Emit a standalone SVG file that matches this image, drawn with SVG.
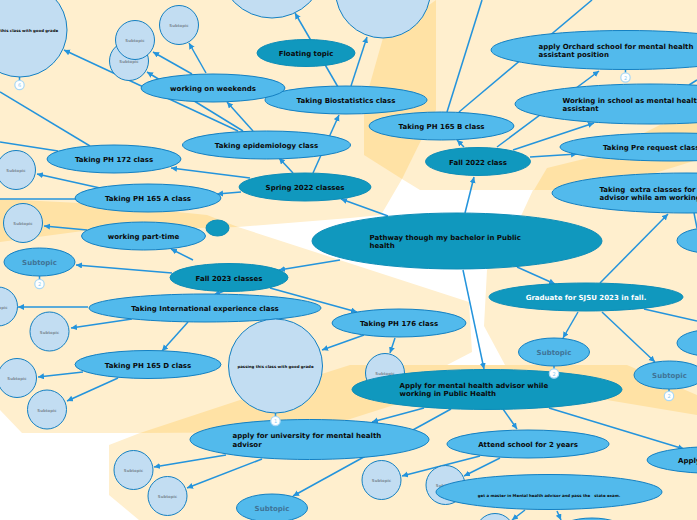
<svg xmlns="http://www.w3.org/2000/svg" width="697" height="520" viewBox="0 0 697 520">
<style>
text{font-family:"DejaVu Sans",sans-serif;font-weight:700;fill:#0a0a0a}
.t{font-size:7px}
.m{text-anchor:middle}
.root{fill:#1098BE;stroke:#0F8DB8;stroke-width:1}
.topic{fill:#52BAEC;stroke:#1480C2;stroke-width:1}
.sub{fill:#C2DDF2;stroke:#1480C2;stroke-width:1}
.st{font-size:7px;fill:#3F7396;text-anchor:middle}
.ss{font-size:3.9px;fill:#7d8b96;text-anchor:middle}
.tiny{font-size:3.9px;text-anchor:middle}
.badge{fill:#fff;stroke:#A9D8F5;stroke-width:1.2}
.bt{font-size:5px;fill:#8CCBF2;text-anchor:middle;font-weight:400}
#connectors path{fill:none;stroke:#2494DC;stroke-width:1.5}
#connectors path.a{marker-end:url(#arrow)}
</style>
<defs>
<marker id="arrow" markerUnits="userSpaceOnUse" markerWidth="7" markerHeight="7" refX="6" refY="3" orient="auto"><path d="M0 0L6 3L0 6Z" fill="#2494DC"/></marker>
</defs>
<g id="background">
<rect width="697" height="520" fill="#FFEFCE"/>
<path d="M238 227L350 218L381 215L402 179L420 190L533 190L521 216L487 270L484 326L505 365L447 365L472 352L469 302Z" fill="#fff"/>
<path d="M0 410L22 433L140 433L109 445L109 495L139 520L0 520Z" fill="#fff"/>
<g fill="#FFE2A5">
<path d="M436 0L436 110L402 179L364 155L364 105L383 38Z"/>
<path d="M534 190L547 168L600 155L660 125L697 118L697 160L600 190Z"/>
<path d="M0 199L100 204L207 215L238 227L83 231L0 242Z"/>
<path d="M140 433L240 400L350 365L627 365L697 395L697 415L607 400L394 405L347 420L280 432Z"/>
</g>
</g>
<g id="connectors">
<path class="a" d="M338 87L295 13"/>
<path class="a" d="M351 86L367 37"/>
<path class="a" d="M313 173L339 115"/>
<path class="a" d="M293 173L279 158"/>
<path class="a" d="M253 131L227 102"/>
<path class="a" d="M243 131L147 72"/>
<path class="a" d="M238 131L64 50"/>
<path class="a" d="M192 74L153 52"/>
<path class="a" d="M206 73L189 43"/>
<path d="M90 146L0 92"/>
<path d="M58 151L0 142"/>
<path class="a" d="M250 178L171 168"/>
<path class="a" d="M241 192L217 194"/>
<path class="a" d="M100 188L37 174"/>
<path d="M76 199L0 199"/>
<path class="a" d="M87 230L44 226"/>
<path class="a" d="M193 260L171 249"/>
<path class="a" d="M172 273L76 265"/>
<path class="a" d="M388 216L341 199"/>
<path class="a" d="M465 213L474 177"/>
<path class="a" d="M464 147L457 140"/>
<path d="M447 112L482 0"/>
<path d="M459 112L592 0"/>
<path class="a" d="M497 147L599 71"/>
<path class="a" d="M513 150L594 123"/>
<path class="a" d="M530 157L577 154"/>
<path d="M689 85L697 80"/>
<path class="a" d="M600 283L668 214"/>
<path d="M694 213L697 228"/>
<path class="a" d="M517 267L555 284"/>
<path class="a" d="M578 312L563 338"/>
<path class="a" d="M602 312L655 362"/>
<path d="M644 309L697 321"/>
<path class="a" d="M463 270L484 369"/>
<path class="a" d="M224 291L214 295"/>
<path class="a" d="M270 288L357 312"/>
<path class="a" d="M340 260L279 270"/>
<path class="a" d="M88 307L18 307"/>
<path class="a" d="M132 319L71 328"/>
<path class="a" d="M188 322L162 351"/>
<path class="a" d="M83 372L38 377"/>
<path class="a" d="M118 378L67 401"/>
<path class="a" d="M364 335L322 350"/>
<path class="a" d="M395 338L390 353"/>
<path class="a" d="M424 408L372 422"/>
<path class="a" d="M451 409L293 496"/>
<path class="a" d="M503 409L517 429"/>
<path class="a" d="M549 408L684 449"/>
<path class="a" d="M226 455L154 467"/>
<path class="a" d="M262 459L187 488"/>
<path class="a" d="M480 456L402 476"/>
<path class="a" d="M500 458L464 476"/>
<path class="a" d="M525 510L512 520"/>
<path class="a" d="M557 511L561 520"/>
<path d="M19.500 77L19.500 85M625.500 70L625.500 77M39.500 276L39.500 284M275.500 413L275.500 421M554 366L554 373M669 389L669 396"/>
</g>
<g id="n-top1"><circle class="sub" cx="272" cy="-35" r="53"/></g>
<g id="n-top2"><circle class="sub" cx="383" cy="-9.500" r="47.500"/></g>
<g id="n-leftcircle"><circle class="sub" cx="20" cy="30" r="47"/><text class="tiny" x="20" y="32">passing this class with good grade</text></g>
<g id="n-s1"><circle class="sub" cx="129" cy="61" r="19.500"/><text class="ss" x="129" y="63">Subtopic</text></g>
<g id="n-s2"><circle class="sub" cx="135" cy="40" r="19.500"/><text class="ss" x="135" y="42">Subtopic</text></g>
<g id="n-s3"><circle class="sub" cx="179" cy="25" r="19.500"/><text class="ss" x="179" y="27">Subtopic</text></g>
<g id="n-biostat"><ellipse class="topic" cx="346" cy="100" rx="81" ry="14"/><text class="t m" x="346" y="103">Taking Biostatistics class</text></g>
<g id="n-weekends"><ellipse class="topic" cx="213" cy="88" rx="72" ry="14"/><text class="t m" x="213" y="91">working on weekends</text></g>
<g id="n-floating"><ellipse class="root" cx="306" cy="53" rx="49" ry="13.500"/><text class="t m" x="306" y="56">Floating topic</text></g>
<g id="n-epi"><ellipse class="topic" cx="266.500" cy="145" rx="84" ry="14"/><text class="t m" x="266.500" y="148">Taking epidemiology class</text></g>
<g id="n-spring"><ellipse class="root" cx="305" cy="187" rx="66" ry="14"/><text class="t m" x="305" y="190">Spring 2022 classes</text></g>
<g id="n-ph172"><ellipse class="topic" cx="114" cy="159" rx="67" ry="14"/><text class="t m" x="114" y="162">Taking PH 172 class</text></g>
<g id="n-ph165a"><ellipse class="topic" cx="148" cy="198" rx="73" ry="14"/><text class="t m" x="148" y="201">Taking PH 165 A class</text></g>
<g id="n-s4"><circle class="sub" cx="16" cy="170" r="19.500"/><text class="ss" x="16" y="172">Subtopic</text></g>
<g id="n-s5"><circle class="sub" cx="23" cy="223" r="19.500"/><text class="ss" x="23" y="225">Subtopic</text></g>
<g id="n-parttime"><ellipse class="topic" cx="143.500" cy="236" rx="62" ry="14"/><text class="t m" x="143.500" y="239">working part-time</text></g>
<g id="n-dot"><ellipse class="root" cx="217.500" cy="228" rx="11.500" ry="8"/></g>
<g id="n-sub1"><ellipse class="topic" cx="39.500" cy="262" rx="35.500" ry="14"/><text class="st" x="39.500" y="265">Subtopic</text></g>
<g id="n-fall2023"><ellipse class="root" cx="229" cy="277.500" rx="59" ry="14"/><text class="t m" x="229" y="280.500">Fall 2023 classes</text></g>
<g id="n-intl"><ellipse class="topic" cx="205" cy="308" rx="116" ry="14"/><text class="t m" x="205" y="311">Taking International experience class</text></g>
<g id="n-ph176"><ellipse class="topic" cx="399" cy="323" rx="67" ry="14"/><text class="t m" x="399" y="326">Taking PH 176 class</text></g>
<g id="n-s6"><circle class="sub" cx="-2" cy="306.500" r="19.500"/><text class="ss" x="-2" y="308.500">Subtopic</text></g>
<g id="n-s7"><circle class="sub" cx="49.500" cy="331.500" r="19.500"/><text class="ss" x="49.500" y="333.500">Subtopic</text></g>
<g id="n-ph165d"><ellipse class="topic" cx="148" cy="364.500" rx="73" ry="14"/><text class="t m" x="148" y="367.500">Taking PH 165 D class</text></g>
<g id="n-s8"><circle class="sub" cx="17" cy="378" r="19.500"/><text class="ss" x="17" y="380">Subtopic</text></g>
<g id="n-s9"><circle class="sub" cx="47" cy="409.500" r="19.500"/><text class="ss" x="47" y="411.500">Subtopic</text></g>
<g id="n-passing"><circle class="sub" cx="275.500" cy="366" r="47"/><text class="tiny" x="275.500" y="368">passing this class with good grade</text></g>
<g id="n-s10"><circle class="sub" cx="385" cy="373" r="19.500"/><text class="ss" x="385" y="375">Subtopic</text></g>
<g id="n-pathway"><ellipse class="root" cx="457" cy="241" rx="145" ry="28"/><text class="t" x="369.500" y="240">Pathway though my bachelor in Public</text><text class="t" x="369.500" y="248">health</text></g>
<g id="n-fall2022"><ellipse class="root" cx="478" cy="161.500" rx="52.500" ry="14"/><text class="t m" x="478" y="164.500">Fall 2022 class</text></g>
<g id="n-ph165b"><ellipse class="topic" cx="441.500" cy="126" rx="72.500" ry="14"/><text class="t m" x="441.500" y="129">Taking PH 165 B class</text></g>
<g id="n-orchard"><ellipse class="topic" cx="626" cy="50" rx="135" ry="19.500"/><text class="t" x="538.500" y="49">apply Orchard school for mental health</text><text class="t" x="538.500" y="57">assistant position</text></g>
<g id="n-working"><ellipse class="topic" cx="650" cy="104" rx="135" ry="20"/><text class="t" x="562.500" y="103">Working in school as mental health</text><text class="t" x="562.500" y="111">assistant</text></g>
<g id="n-prereq"><ellipse class="topic" cx="673" cy="147" rx="113" ry="14"/><text class="t" x="603" y="150">Taking Pre request class</text></g>
<g id="n-extra"><ellipse class="topic" cx="687" cy="193" rx="135" ry="20"/><text class="t" x="599.500" y="192" xml:space="preserve">Taking  extra classes for</text><text class="t" x="599.500" y="200">advisor while am working</text></g>
<g id="n-rightsub1"><ellipse class="topic" cx="712" cy="240.500" rx="35" ry="13"/></g>
<g id="n-graduate"><ellipse class="root" cx="586" cy="297" rx="97" ry="14"/><text class="t m" x="586" y="300" style="fill:#fff">Graduate for SJSU 2023 in fall.</text></g>
<g id="n-rightsub2"><ellipse class="topic" cx="712" cy="343" rx="35" ry="13.500"/></g>
<g id="n-sub2"><ellipse class="topic" cx="554" cy="352" rx="35.500" ry="14"/><text class="st" x="554" y="355">Subtopic</text></g>
<g id="n-sub3"><ellipse class="topic" cx="669.500" cy="375" rx="35.500" ry="14"/><text class="st" x="669.500" y="378">Subtopic</text></g>
<g id="n-applymental"><ellipse class="root" cx="487" cy="389.500" rx="135" ry="20"/><text class="t" x="399.500" y="388">Apply for mental health advisor while</text><text class="t" x="399.500" y="396">working in Public Health</text></g>
<g id="n-university"><ellipse class="topic" cx="309.500" cy="439.500" rx="119.500" ry="20"/><text class="t" x="232.500" y="438">apply for university for mental health</text><text class="t" x="232.500" y="447">advisor</text></g>
<g id="n-attend"><ellipse class="topic" cx="528" cy="444" rx="81" ry="14"/><text class="t m" x="528" y="447">Attend school for 2 years</text></g>
<g id="n-applyright"><ellipse class="topic" cx="717" cy="460" rx="70" ry="13.500"/><text class="t" x="678" y="463">Apply</text></g>
<g id="n-s11"><circle class="sub" cx="381.500" cy="480" r="19.500"/><text class="ss" x="381.500" y="482">Subtopic</text></g>
<g id="n-s12"><circle class="sub" cx="445.500" cy="485" r="19.500"/><text class="ss" x="445.500" y="487">Subtopic</text></g>
<g id="n-master"><ellipse class="topic" cx="549" cy="492" rx="113" ry="17.500"/><text class="tiny" x="549" y="497" xml:space="preserve">get a master in Mental health advisor and pass the   state exam.</text></g>
<g id="n-s13"><circle class="sub" cx="133.500" cy="470" r="19.500"/><text class="ss" x="133.500" y="472">Subtopic</text></g>
<g id="n-s14"><circle class="sub" cx="167.500" cy="496" r="19.500"/><text class="ss" x="167.500" y="498">Subtopic</text></g>
<g id="n-sub4"><ellipse class="topic" cx="272" cy="508" rx="35.500" ry="14"/><text class="st" x="272" y="511">Subtopic</text></g>
<g id="n-s15"><circle class="sub" cx="495" cy="533" r="19.500"/></g>
<g id="n-s16"><ellipse class="topic" cx="592" cy="532" rx="35" ry="14"/></g>
<g id="badges">
<circle class="badge" cx="19.500" cy="85" r="4.700"/><text class="bt" x="19.500" y="87">6</text>
<circle class="badge" cx="39.500" cy="284" r="4.700"/><text class="bt" x="39.500" y="286">2</text>
<circle class="badge" cx="275.500" cy="421" r="4.700"/><text class="bt" x="275.500" y="423">1</text>
<circle class="badge" cx="625.500" cy="77.500" r="4.700"/><text class="bt" x="625.500" y="79.500">2</text>
<circle class="badge" cx="554" cy="373.500" r="4.700"/><text class="bt" x="554" y="375.500">2</text>
<circle class="badge" cx="669" cy="396" r="4.700"/><text class="bt" x="669" y="398">2</text>
</g>
</svg>
